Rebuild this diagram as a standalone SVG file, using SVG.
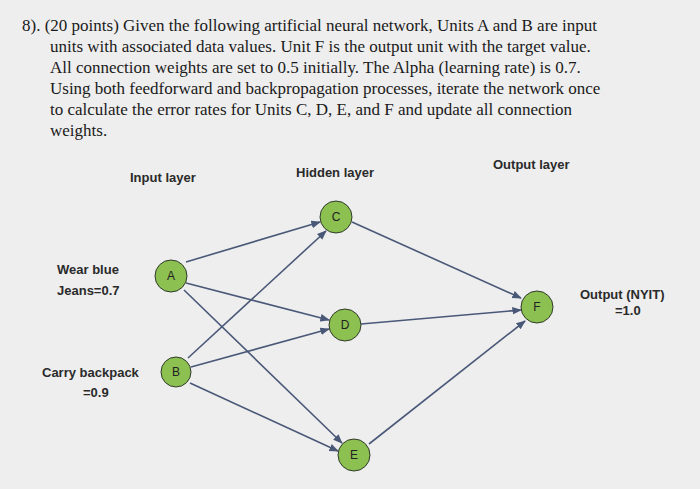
<svg xmlns="http://www.w3.org/2000/svg" width="700" height="489" viewBox="0 0 700 489">
<style>
.q{font-family:"Liberation Serif",serif;font-size:17px;fill:#1a1a1a}
.l{font-family:"Liberation Sans",sans-serif;font-size:13px;font-weight:bold;fill:#2a2a2a}
.n circle{fill:#8cc051;stroke:#2f3a2a;stroke-width:1}
.n text{font-family:"Liberation Sans",sans-serif;font-size:12px;fill:#222;text-anchor:middle}
.e line{stroke:#4a5878;stroke-width:1.6;marker-end:url(#a)}
</style>
<defs><marker id="a" viewBox="0 0 10 10" refX="9" refY="5" markerWidth="6" markerHeight="6" orient="auto"><path d="M0,1L10,5L0,9z" fill="#4a5878"/></marker></defs>
<rect width="700" height="489" fill="#eeeeee"/>
<text class="q" x="22" y="31">8). (20 points) Given the following artificial neural network, Units A and B are input</text>
<text class="q" x="50" y="52">units with associated data values. Unit F is the output unit with the target value.</text>
<text class="q" x="50" y="73">All connection weights are set to 0.5 initially. The Alpha (learning rate) is 0.7.</text>
<text class="q" x="50" y="94">Using both feedforward and backpropagation processes, iterate the network once</text>
<text class="q" x="50" y="115">to calculate the error rates for Units C, D, E, and F and update all connection</text>
<text class="q" x="50" y="136">weights.</text>
<text class="l" x="130" y="182">Input layer</text>
<text class="l" x="296" y="177">Hidden layer</text>
<text class="l" x="493" y="169">Output layer</text>
<text class="l" x="57" y="274">Wear blue</text>
<text class="l" x="57" y="295">Jeans=0.7</text>
<text class="l" x="42" y="377">Carry backpack</text>
<text class="l" x="83" y="397">=0.9</text>
<text class="l" x="580" y="299">Output (NYIT)</text>
<text class="l" x="615" y="315">=1.0</text>
<g class="e">
<line x1="186" y1="262" x2="320" y2="222"/>
<line x1="186" y1="283" x2="329" y2="320"/>
<line x1="184" y1="290" x2="342" y2="443"/>
<line x1="188" y1="358" x2="326" y2="231"/>
<line x1="191" y1="367" x2="329" y2="329"/>
<line x1="190" y1="383" x2="338" y2="451"/>
<line x1="352" y1="222" x2="521" y2="298"/>
<line x1="361" y1="324" x2="521" y2="310"/>
<line x1="369" y1="444" x2="525" y2="321"/>
</g>
<g id="A" class="n"><circle cx="171" cy="276" r="16"/><text x="171" y="280">A</text></g>
<g id="B" class="n"><circle cx="176" cy="372" r="15"/><text x="176" y="376">B</text></g>
<g id="C" class="n"><circle cx="336" cy="217" r="16"/><text x="336" y="221">C</text></g>
<g id="D" class="n"><circle cx="345" cy="325" r="16"/><text x="345" y="329">D</text></g>
<g id="E" class="n"><circle cx="354" cy="455" r="16"/><text x="354" y="459">E</text></g>
<g id="F" class="n"><circle cx="537" cy="307" r="16"/><text x="537" y="311">F</text></g>
</svg>
